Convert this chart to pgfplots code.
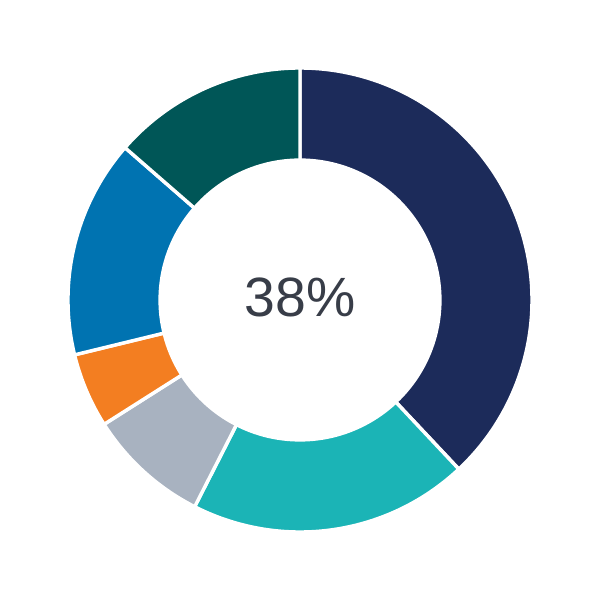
\documentclass[border=0pt]{standalone}
\usepackage{pgfplots}
\pgfplotsset{compat=1.18}
\usepackage{fontspec}
\setmainfont{Liberation Sans}

\definecolor{cnavy}{HTML}{1C2B5A}
\definecolor{cteal}{HTML}{1BB4B6}
\definecolor{cgray}{HTML}{A8B2C0}
\definecolor{corange}{HTML}{F37E21}
\definecolor{cblue}{HTML}{0073B1}
\definecolor{cgreen}{HTML}{005657}
\definecolor{ctext}{HTML}{383D48}

% shares in percent, clockwise from 12 o'clock
\def\pA{38}\def\pB{19.5}\def\pC{8.5}\def\pD{5.2}\def\pE{15.2}\def\pF{13.6}

% wedge from start% to end%
\newcommand{\donutwedge}[3]{%
  \addplot[fill=#1, draw=white, line width=1.3pt, line join=round,
           domain={3.6*(#2)}:{3.6*(#3)}, samples=90, variable=\t]
    ({sin(\t)}, {cos(\t)}) -- (axis cs:0,0) -- cycle;
}

\begin{document}
\begin{tikzpicture}
\pgfmathsetmacro{\sA}{\pA}
\pgfmathsetmacro{\sB}{\sA+\pB}
\pgfmathsetmacro{\sC}{\sB+\pC}
\pgfmathsetmacro{\sD}{\sC+\pD}
\pgfmathsetmacro{\sE}{\sD+\pE}
\begin{axis}[
    width=8cm, height=8cm, scale only axis,
    xmin=-1.293, xmax=1.293, ymin=-1.293, ymax=1.293,
    hide axis, clip=false,
]
\donutwedge{cnavy}{0}{\sA}
\donutwedge{cteal}{\sA}{\sB}
\donutwedge{cgray}{\sB}{\sC}
\donutwedge{corange}{\sC}{\sD}
\donutwedge{cblue}{\sD}{\sE}
\donutwedge{cgreen}{\sE}{100}
\addplot[fill=white, draw=white, line width=1.3pt, domain=0:360, samples=180, variable=\t]
    ({0.603*sin(\t)}, {0.603*cos(\t)}) -- cycle;
\node[text=ctext, font=\fontsize{21}{25}\selectfont] at (axis cs:0,0.01) {38\%};
\end{axis}
\pgfresetboundingbox
\useasboundingbox (current axis.south west) rectangle (current axis.north east);
\end{tikzpicture}
\end{document}
